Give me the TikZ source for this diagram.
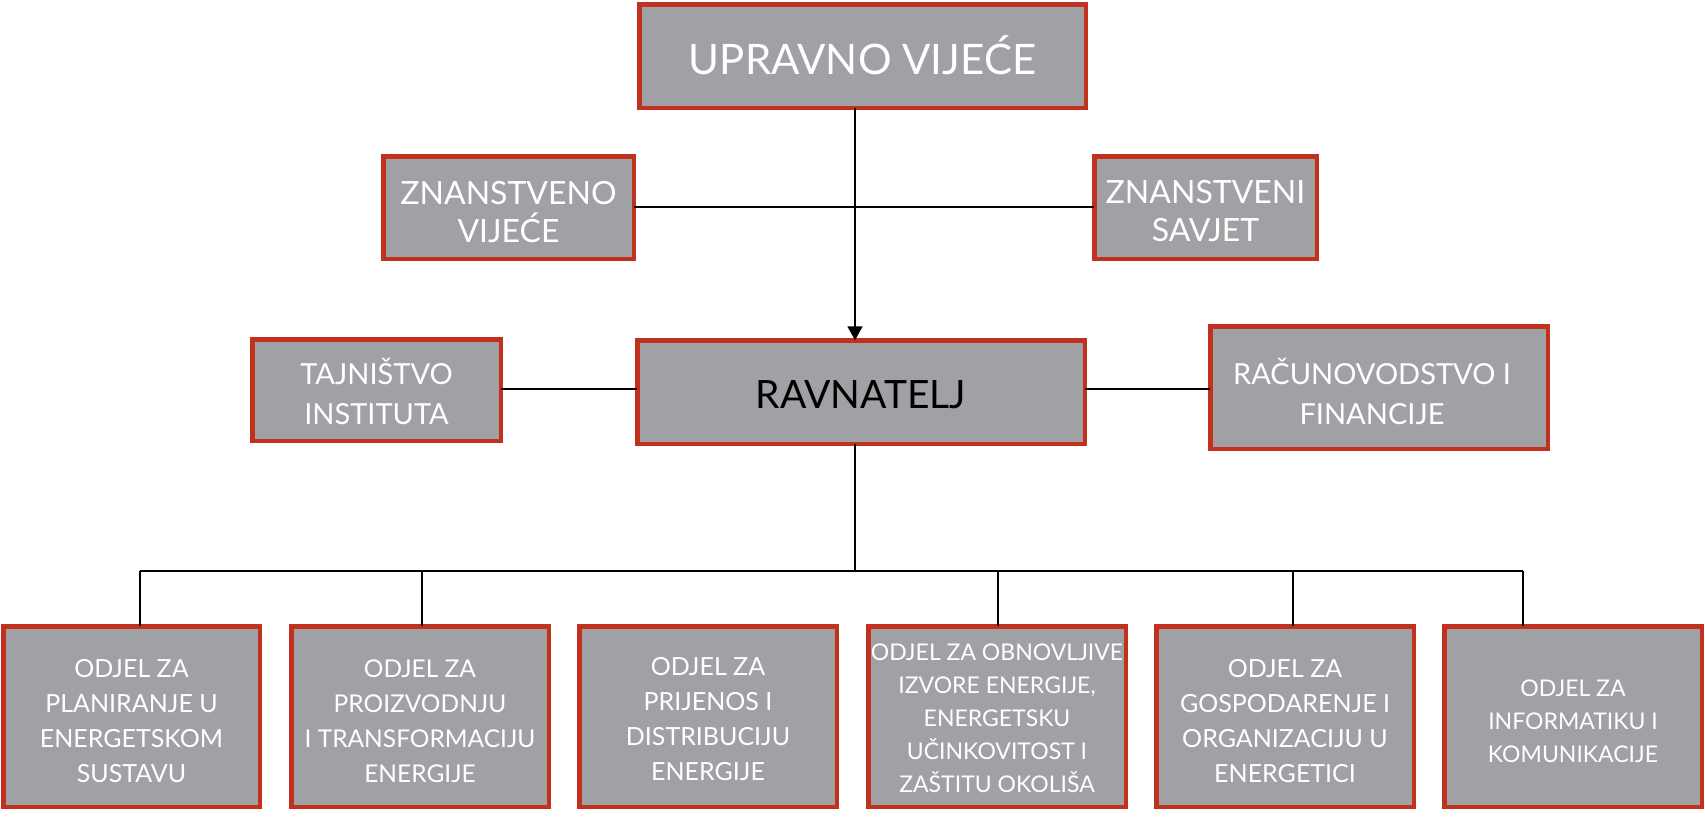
\documentclass[tikz,border=0pt]{standalone}
\usepackage{fontspec}
\setmainfont{Lato}
\usetikzlibrary{arrows.meta}
\definecolor{boxgray}{RGB}{160,161,165}
\definecolor{boxred}{RGB}{193,49,30}
\newcommand\bbox[8]{%
  \node[box, minimum width={#4-#2-4.5}, minimum height={#5-#3-4.5}] (#1) at ({(#2+#4)/2},{(#3+#5)/2}) {};
  \node[lbl, font=#6] (#1t) at ([shift={#8}]#1.center) {#7};}
\begin{document}
\begin{tikzpicture}[x=1pt,y=-1pt,
  box/.style={draw=boxred, line width=4.5pt, fill=boxgray, inner sep=0pt, outer sep=0pt},
  lbl/.style={inner sep=0pt, align=center, text=white},
  conn/.style={line width=1.8pt, draw=black}]
\useasboundingbox (0,0) rectangle (1705,836);
\def\fbig{\fontsize{42}{48}\selectfont}
\def\fmid{\fontsize{32}{38}\selectfont}
\def\fside{\fontsize{29}{40}\selectfont}
\bbox{top}{637}{2}{1088}{110}{\fbig}{UPRAVNO VIJEĆE}{(0,-1)}
\bbox{zv}{381}{154}{636}{261}{\fmid}{ZNANSTVENO\\VIJEĆE}{(0,5)}
\bbox{zs}{1092}{154}{1319}{261}{\fmid}{ZNANSTVENI\\SAVJET}{(0,4)}
\bbox{taj}{250}{337}{503}{443}{\fside}{TAJNIŠTVO\\INSTITUTA}{(0,1)}
\bbox{rav}{635}{338}{1087}{446}{\fontsize{39}{44}\selectfont}{\color{black}RAVNATELJ}{(0,3)}
\bbox{rac}{1208}{324}{1550}{451}{\fside}{RAČUNOVODSTVO I\\FINANCIJE}{(-7,4)}
\bbox{d1}{1}{624}{262}{809}{\fontsize{25}{35}\selectfont}{ODJEL ZA\\PLANIRANJE U\\ENERGETSKOM\\SUSTAVU}{(0,5)}
\bbox{d2}{289}{624}{551}{809}{\fontsize{24.5}{35}\selectfont}{ODJEL ZA\\PROIZVODNJU\\I TRANSFORMACIJU\\ENERGIJE}{(0,5)}
\bbox{d3}{577}{624}{839}{809}{\fontsize{25}{35}\selectfont}{ODJEL ZA\\PRIJENOS I\\DISTRIBUCIJU\\ENERGIJE}{(0,3)}
\bbox{d4}{866}{624}{1128}{809}{\fontsize{23}{33}\selectfont}{ODJEL ZA OBNOVLJIVE\\IZVORE ENERGIJE,\\ENERGETSKU\\UČINKOVITOST I\\ZAŠTITU OKOLIŠA}{(0,2)}
\bbox{d5}{1154}{624}{1416}{809}{\fontsize{25}{35}\selectfont}{ODJEL ZA\\GOSPODARENJE I\\ORGANIZACIJU U\\ENERGETICI}{(0,5)}
\bbox{d6}{1442}{624}{1704}{809}{\fontsize{23}{33}\selectfont}{ODJEL ZA\\INFORMATIKU I\\KOMUNIKACIJE}{(0,5)}
\coordinate (cx) at (855,0);
\coordinate (busL) at (140,571);
\coordinate (busR) at (1523,571);
\coordinate (busC) at (855,571);
% main vertical with arrow
\draw[conn, -{Triangle[length=14pt,width=15pt]}] (top.south -| cx) -- (rav.north -| cx);
% side connectors
\draw[conn] (zv.east |- 0,207) -- (zs.west |- 0,207);
\draw[conn] (taj.east |- 0,389) -- (rav.west |- 0,389);
\draw[conn] (rav.east |- 0,389) -- (rac.west |- 0,389);
% down to bus
\draw[conn] (rav.south -| cx) -- (busC);
\draw[conn] (busL) -- (busR);
\draw[conn] (busL) -- (d1.north -| busL);
\draw[conn] (422,571) coordinate (b2) -- (d2.north -| b2);
\draw[conn] (998,571) coordinate (b4) -- (d4.north -| b4);
\draw[conn] (1293,571) coordinate (b5) -- (d5.north -| b5);
\draw[conn] (busR) -- (d6.north -| busR);
\end{tikzpicture}
\end{document}
